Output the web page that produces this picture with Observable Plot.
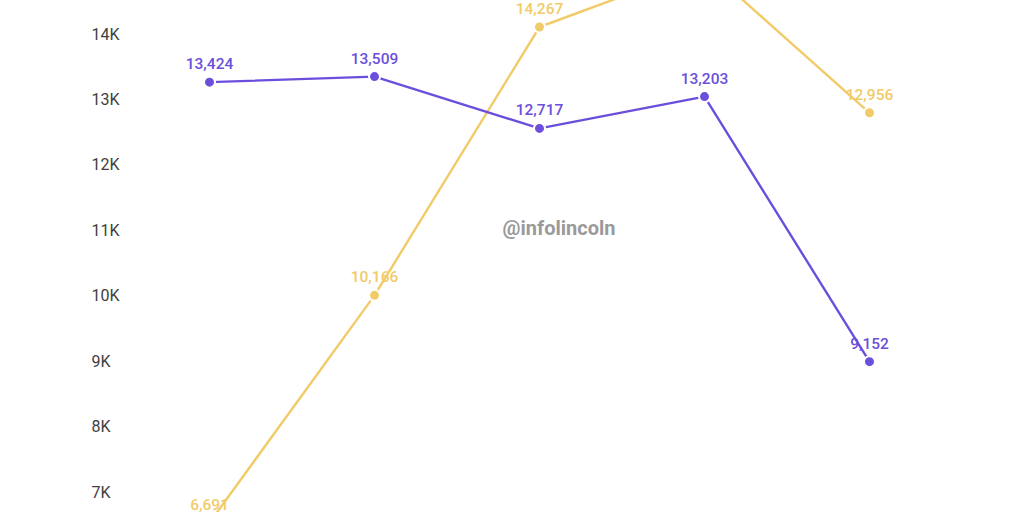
<!DOCTYPE html>
<html>
<head>
<meta charset="utf-8">
<script src="https://cdn.jsdelivr.net/npm/d3@7"></script>
<script src="https://cdn.jsdelivr.net/npm/@observablehq/plot@0.6"></script>
<style>
  html, body { margin: 0; padding: 0; background: #fff; overflow: hidden; }
  #wrap { position: relative; width: 1024px; height: 512px; }
  #wm { position: absolute; left: 559px; top: 228px; transform: translate(-50%, -50%);
        font: 700 20px Roboto, sans-serif; color: #9a9a9a; white-space: nowrap; }
</style>
</head>
<body>
<div id="wrap"><div id="wm">@infolincoln</div></div>
<script>
const categories = ["1", "2", "3", "4", "5"];
const purpleValues = [13424, 13509, 12717, 13203, 9152];
const yellowValues = [6691, 10166, 14267, 15200, 12956];
const yTicks = [7000, 8000, 9000, 10000, 11000, 12000, 13000, 14000];
const yTickLabels = ["7K", "8K", "9K", "10K", "11K", "12K", "13K", "14K"];

const purple = "#6b4fdc";
const yellow = "#f1cb68";

const rows = [
  ...categories.map((c, i) => ({cat: c, value: yellowValues[i], series: "S2"})),
  ...categories.map((c, i) => ({cat: c, value: purpleValues[i], series: "S1"}))
];
const fmt = d3.format(",");

const chart = Plot.plot({
  width: 1024,
  height: 512,
  marginTop: 0,
  marginBottom: 0,
  marginLeft: 0,
  marginRight: 0,
  style: {fontFamily: "Roboto, sans-serif", background: "transparent"},
  x: {type: "point", domain: categories, range: [209, 869], padding: 0, axis: null},
  y: {domain: [6847, 14672], label: null},
  color: {domain: ["S2", "S1"], range: [yellow, purple]},
  marks: [
    Plot.axisY(yTicks, {
      anchor: "left", tickSize: 0, tickPadding: 0, dx: 91, dy: -10, label: null,
      textAnchor: "start", fontSize: 16, fontWeight: 400, fill: "#404040",
      tickFormat: (d) => yTickLabels[yTicks.indexOf(d)]
    }),
    Plot.text(rows, {
      x: "cat", y: "value", text: (d) => fmt(d.value), fill: "series",
      dy: -18, fontSize: 15.5, fontWeight: 500, clip: true
    }),
    Plot.line(rows, {
      x: "cat", y: "value", z: "series", stroke: "series", strokeWidth: 2.4, clip: true
    }),
    Plot.dot(rows, {
      x: "cat", y: "value", fill: "series", r: 5.5, stroke: "white", strokeWidth: 2, clip: true
    })
  ]
});
document.getElementById("wrap").prepend(chart);
</script>
</body>
</html>
